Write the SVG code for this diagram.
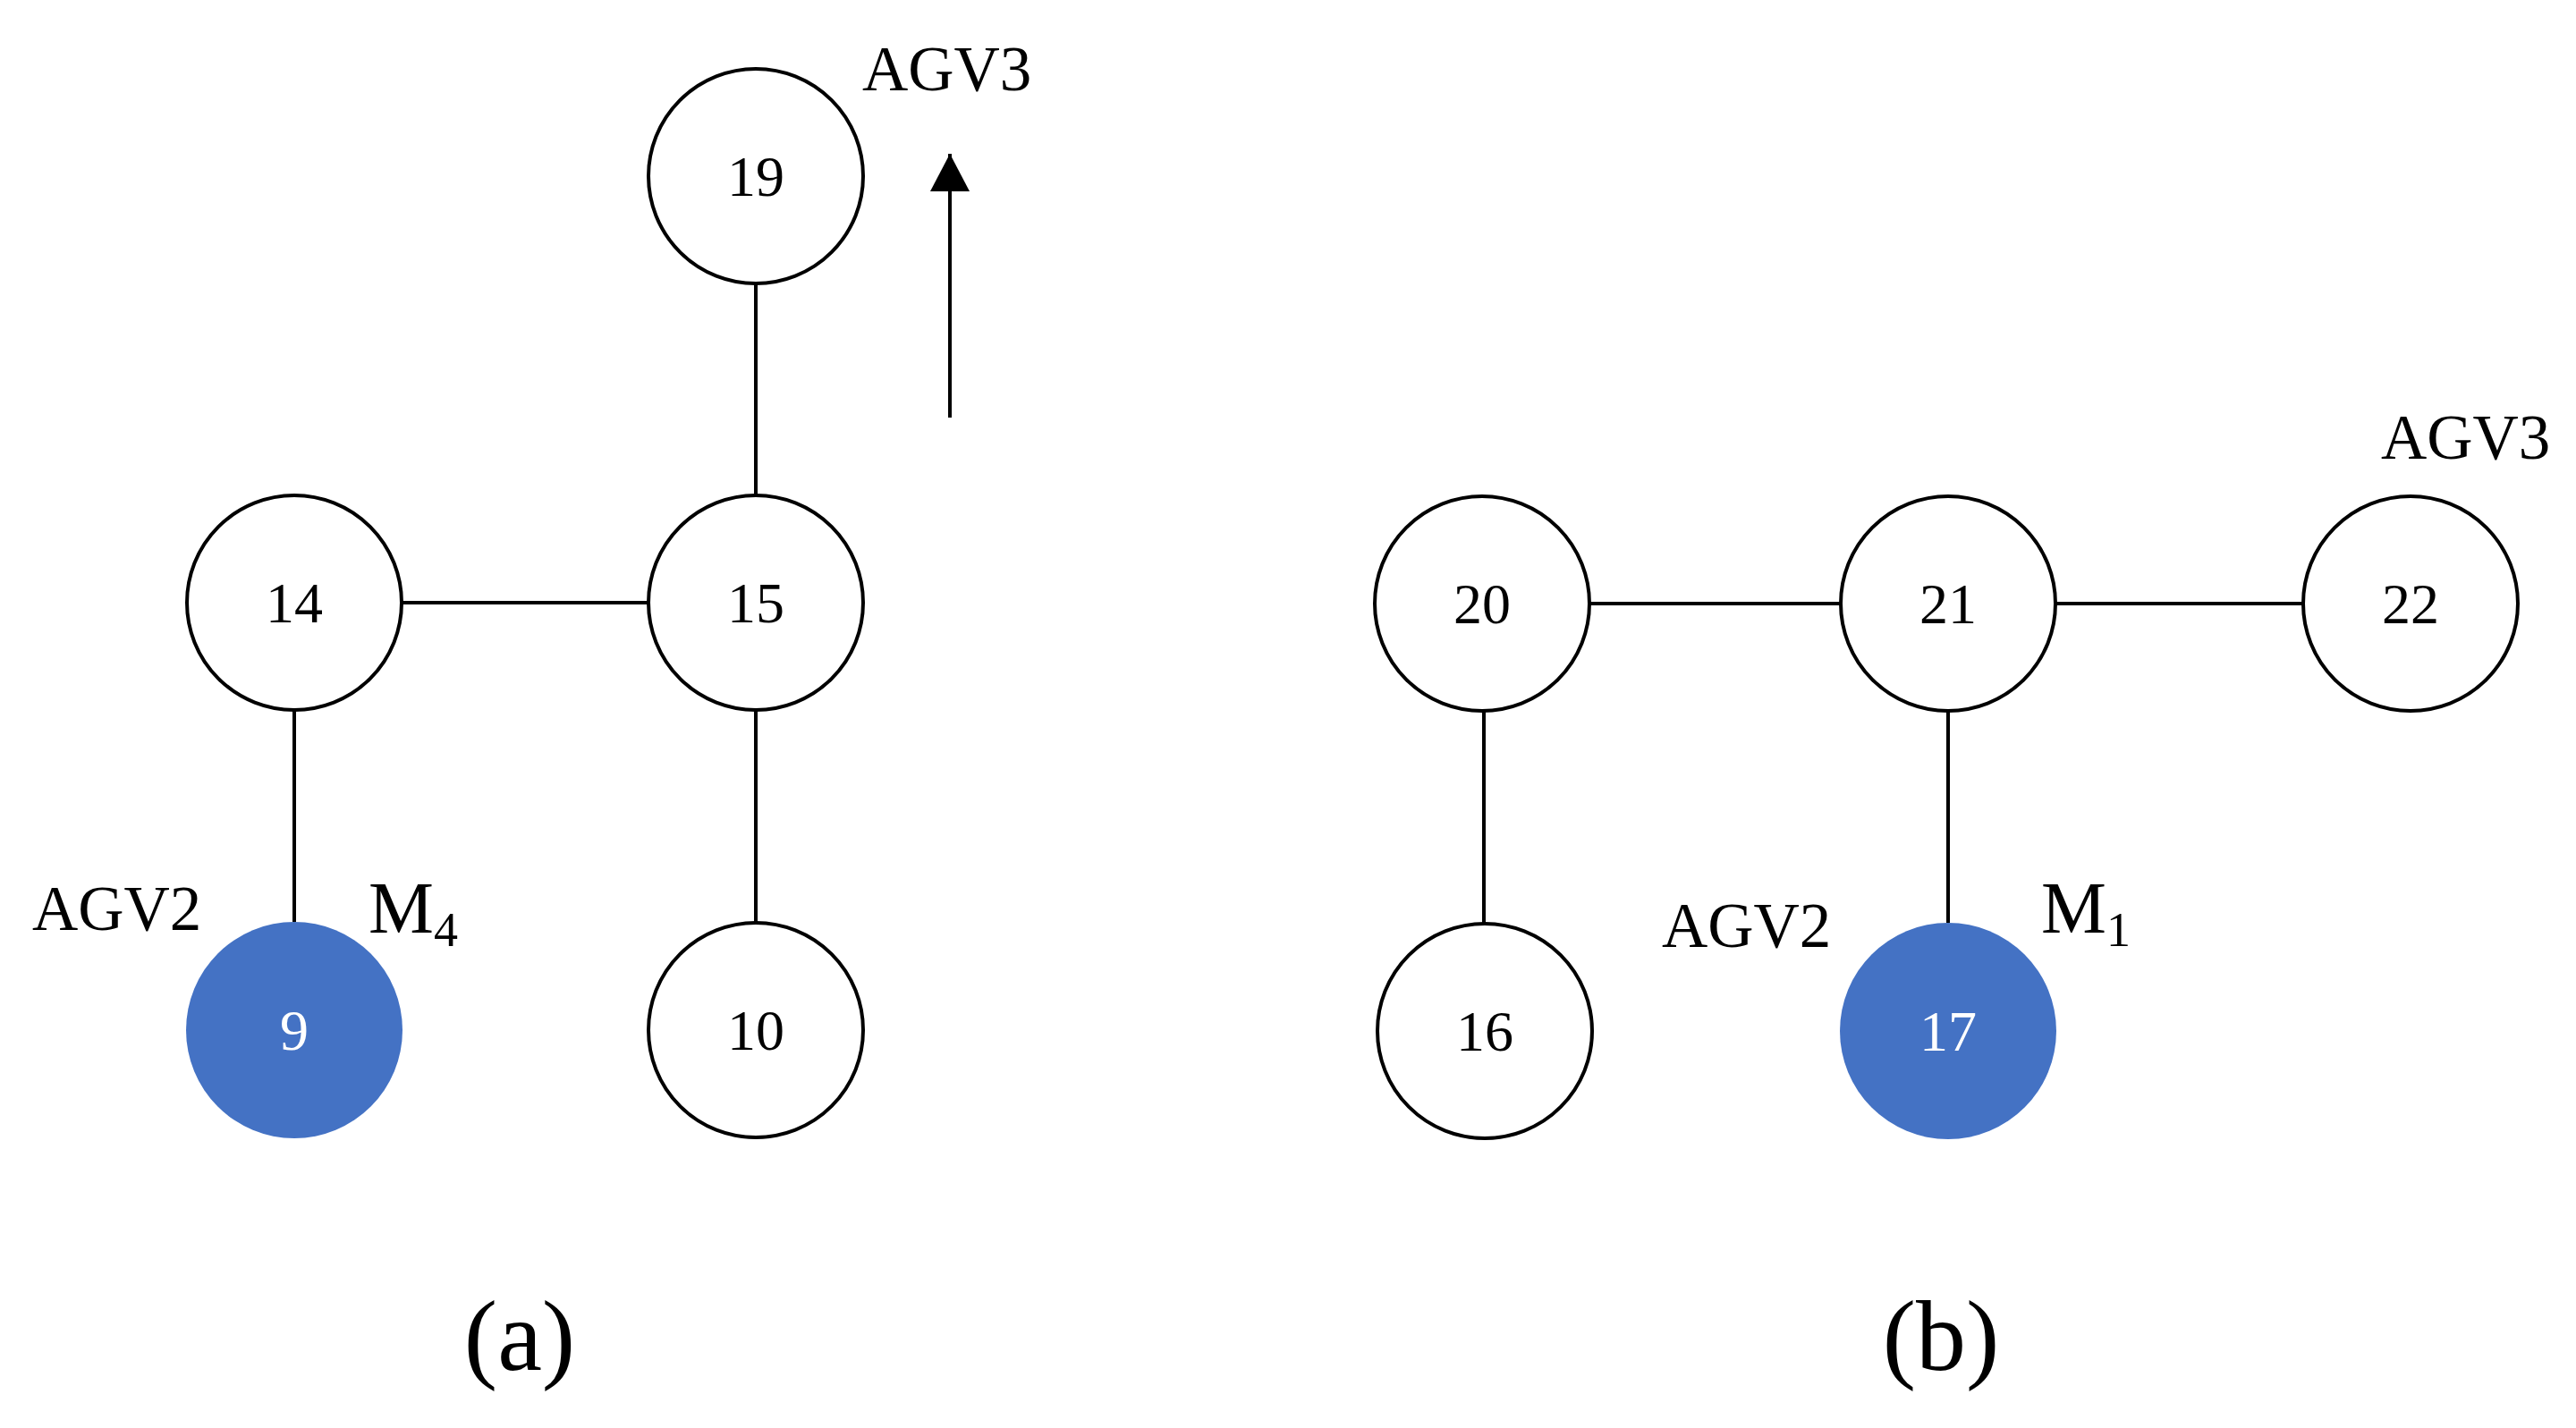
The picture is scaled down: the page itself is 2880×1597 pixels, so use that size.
<svg xmlns="http://www.w3.org/2000/svg" width="2880" height="1597" viewBox="0 0 2880 1597">
<defs>
<style>
.n{fill:#fff;stroke:#000;stroke-width:4}
.f{fill:#4472C4;stroke:none}
.t{font-family:"Liberation Serif","Times New Roman",serif;font-size:64px;fill:#000;text-anchor:middle}
.w{fill:#fff}
.l{font-family:"Liberation Serif","Times New Roman",serif;font-size:71px;fill:#000}
.m{font-family:"Liberation Serif","Times New Roman",serif;font-size:82px;fill:#000}
.c{font-family:"Liberation Serif","Times New Roman",serif;font-size:112px;fill:#000;text-anchor:middle}
.e{stroke:#000;stroke-width:4;fill:none}
</style>
<marker id="ah" markerUnits="userSpaceOnUse" markerWidth="46" markerHeight="44" refX="42" refY="22" orient="auto">
<path d="M0,0 L42,22 L0,44 Z" fill="#000"/>
</marker>
</defs>
<rect width="2880" height="1597" fill="#fff"/>
<g id="connectors">
<line class="e" x1="845" y1="318" x2="845" y2="553"/>
<line class="e" x1="450" y1="674" x2="724" y2="674"/>
<line class="e" x1="329" y1="795" x2="329" y2="1031"/>
<line class="e" x1="845" y1="795" x2="845" y2="1031"/>
<line class="e" x1="1778" y1="675" x2="2057" y2="675"/>
<line class="e" x1="2299" y1="675" x2="2574" y2="675"/>
<line class="e" x1="1659" y1="796" x2="1659" y2="1032"/>
<line class="e" x1="2178" y1="796" x2="2178" y2="1032"/>
<line class="e" x1="1062" y1="467" x2="1062" y2="172" marker-end="url(#ah)"/>
</g>
<g id="node19"><circle class="n" cx="845" cy="197" r="120"/><text class="t" x="845" y="219">19</text></g>
<g id="node14"><circle class="n" cx="329" cy="674" r="120"/><text class="t" x="329" y="696">14</text></g>
<g id="node15"><circle class="n" cx="845" cy="674" r="120"/><text class="t" x="845" y="696">15</text></g>
<g id="node9"><circle class="f" cx="329" cy="1152" r="121"/><text class="t w" x="329" y="1174">9</text></g>
<g id="node10"><circle class="n" cx="845" cy="1152" r="120"/><text class="t" x="845" y="1174">10</text></g>
<g id="node20"><circle class="n" cx="1657" cy="675" r="120"/><text class="t" x="1657" y="697">20</text></g>
<g id="node21"><circle class="n" cx="2178" cy="675" r="120"/><text class="t" x="2178" y="697">21</text></g>
<g id="node22"><circle class="n" cx="2695" cy="675" r="120"/><text class="t" x="2695" y="697">22</text></g>
<g id="node16"><circle class="n" cx="1660" cy="1153" r="120"/><text class="t" x="1660" y="1175">16</text></g>
<g id="node17"><circle class="f" cx="2178" cy="1153" r="121"/><text class="t w" x="2178" y="1175">17</text></g>
<g id="labels">
<text class="l" x="964" y="101">AGV3</text>
<text class="l" x="36" y="1040">AGV2</text>
<text class="m" x="412" y="1043">M<tspan font-size="54" dy="15">4</tspan></text>
<text class="l" x="2662" y="513">AGV3</text>
<text class="l" x="1858" y="1059">AGV2</text>
<text class="m" x="2282" y="1043">M<tspan font-size="54" dy="15">1</tspan></text>
<text class="c" x="581" y="1532">(a)</text>
<text class="c" x="2170" y="1532">(b)</text>
</g>
</svg>
